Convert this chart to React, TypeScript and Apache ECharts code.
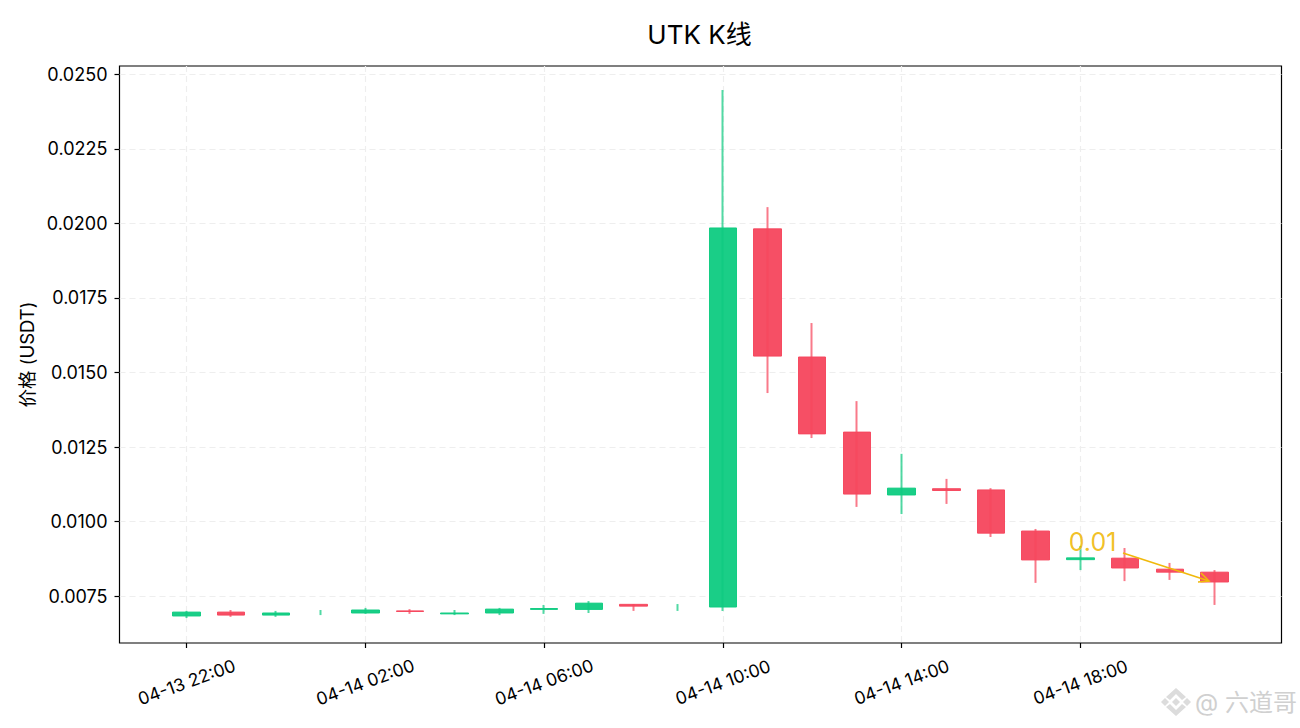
import React, { useEffect, useRef } from "react";
import * as echarts from "echarts";

const categories = ["", "04-13 22:00", "04-13 23:00", "04-14 00:00", "04-14 01:00", "04-14 02:00", "04-14 03:00", "04-14 04:00", "04-14 05:00", "04-14 06:00", "04-14 07:00", "04-14 08:00", "04-14 09:00", "04-14 10:00", "04-14 11:00", "04-14 12:00", "04-14 13:00", "04-14 14:00", "04-14 15:00", "04-14 16:00", "04-14 17:00", "04-14 18:00", "04-14 19:00", "04-14 20:00", "04-14 21:00", ""];
const opens = [0.00683, 0.00696, 0.00686, 0.00696, 0.00693, 0.00700, 0.00690, 0.00693, 0.00705, 0.00705, 0.00722, 0.00713, 0.00713, 0.01982, 0.01552, 0.01300, 0.01089, 0.01110, 0.01106, 0.00968, 0.00872, 0.00877, 0.00840, 0.00830];
const closes = [0.00696, 0.00686, 0.00693, 0.00696, 0.00703, 0.00698, 0.00693, 0.00706, 0.00708, 0.00726, 0.00716, 0.00713, 0.01985, 0.01555, 0.01294, 0.01092, 0.01112, 0.01104, 0.00961, 0.00871, 0.00878, 0.00844, 0.00830, 0.00797];
const lows = [0.00676, 0.00680, 0.00680, 0.00686, 0.00690, 0.00690, 0.00686, 0.00686, 0.00690, 0.00693, 0.00700, 0.00700, 0.00700, 0.01431, 0.01280, 0.01049, 0.01025, 0.01059, 0.00948, 0.00794, 0.00837, 0.00800, 0.00804, 0.00720];
const highs = [0.00700, 0.00703, 0.00700, 0.00703, 0.00710, 0.00706, 0.00703, 0.00710, 0.00720, 0.00733, 0.00723, 0.00723, 0.02448, 0.02055, 0.01666, 0.01404, 0.01227, 0.01143, 0.01112, 0.00975, 0.00918, 0.00911, 0.00861, 0.00837];
const yTickValues = [0.0075, 0.01, 0.0125, 0.015, 0.0175, 0.02, 0.0225, 0.025];

const UP = "#0ECB81";
const DOWN = "#F6465D";
const AMBER = "#F0B90B";
const FONT = 'Inter, "Noto Sans CJK SC", sans-serif';

export default function App() {
  const ref = useRef<HTMLDivElement>(null);
  useEffect(() => {
    document.body.style.margin = "0";
    const chart = echarts.init(ref.current!, undefined, { renderer: "svg" });
    const isTick = (i: number) => i >= 1 && i <= 21 && (i - 1) % 4 === 0;
    const colorOf = (i: number) => (closes[i] >= opens[i] ? UP : DOWN);
    const bodyData = opens.map((o, i) => {
      const c = closes[i];
      if (o === c) return { value: ["-", "-", "-", "-"] };
      const color = colorOf(i);
      return {
        value: [o, c, Math.min(o, c), Math.max(o, c)],
        itemStyle: { color, color0: color, borderColor: color, borderColor0: color, opacity: 0.95 },
      };
    });
    const wickData = opens.map((_, i) => {
      const color = colorOf(i);
      return {
        value: [lows[i], highs[i], lows[i], highs[i]],
        itemStyle: { color, color0: color, borderColor: color, borderColor0: color, borderWidth: 2, opacity: 0.72 },
      };
    });
    const pad = (a: any[]) => [{ value: ["-", "-", "-", "-"] }, ...a, { value: ["-", "-", "-", "-"] }];
    const grey = "#dcdcdc";
    chart.setOption({
      animation: false,
      backgroundColor: "#fff",
      title: {
        text: "UTK K线",
        left: 694.5,
        top: 16,
        textAlign: "center",
        textStyle: { fontFamily: FONT, fontSize: 26, fontWeight: "normal", color: "#000" },
      },
      grid: { left: 119.5, top: 66, width: 1162, height: 577, show: true, borderColor: "#000", borderWidth: 1.2, backgroundColor: "#fff" },
      xAxis: {
        type: "category",
        data: categories,
        boundaryGap: true,
        axisLine: { show: false },
        axisTick: { show: true, alignWithLabel: true, interval: (i: number) => isTick(i), length: 5, lineStyle: { color: "#000", width: 1.2 } },
        axisLabel: {
          interval: (i: number) => isTick(i),
          rotate: 20,
          align: "center",
          verticalAlign: "middle",
          margin: 39,
          fontFamily: FONT,
          fontSize: 17.6,
          color: "#000",
          hideOverlap: false,
        },
        splitLine: { show: true, alignWithLabel: true, interval: (i: number) => isTick(i), lineStyle: { color: "#eeeeee", width: 1.2, type: [6, 4] } },
      },
      yAxis: {
        type: "value",
        min: 0.005923,
        max: 0.025285,
        name: "价格 (USDT)",
        nameLocation: "middle",
        nameGap: 81,
        nameTextStyle: { fontFamily: FONT, fontSize: 18.5, color: "#000" },
        axisLine: { show: false },
        axisTick: { show: true, length: 5, customValues: yTickValues, lineStyle: { color: "#000", width: 1.2 } },
        axisLabel: { customValues: yTickValues, margin: 12, fontFamily: FONT, fontSize: 18, color: "#000", formatter: (v: number) => v.toFixed(4) },
        splitLine: { show: true, lineStyle: { color: "#eeeeee", width: 1.2, type: [6, 4] } },
      },
      series: [
        { type: "candlestick", name: "实体", barWidth: 28, z: 3, itemStyle: { borderWidth: 1 }, data: pad(bodyData) },
        { type: "candlestick", name: "影线", barWidth: 1, z: 4, data: pad(wickData) },
      ],
      graphic: [
        { type: "text", z: 10, style: { x: 1092.5, y: 542, text: "0.01", fill: AMBER, fontFamily: FONT, fontSize: 25, align: "center", verticalAlign: "middle", opacity: 0.9 } },
        { type: "line", z: 10, shape: { x1: 1123, y1: 553, x2: 1209, y2: 581 }, style: { stroke: AMBER, lineWidth: 1.6 } },
        { type: "polyline", z: 10, shape: { points: [[1198, 582], [1209, 581], [1201, 573]] }, style: { stroke: AMBER, lineWidth: 1.6, fill: "none" } },
        { type: "polygon", z: 10, shape: { points: [[1176, 688], [1186, 697], [1182, 700], [1176, 694], [1170, 700], [1166, 697]] }, style: { fill: grey } },
        { type: "polygon", z: 10, shape: { points: [[1176, 716], [1186, 707], [1182, 704], [1176, 710], [1170, 704], [1166, 707]] }, style: { fill: grey } },
        { type: "polygon", z: 10, shape: { points: [[1161, 702], [1165, 698], [1169, 702], [1165, 706]] }, style: { fill: grey } },
        { type: "polygon", z: 10, shape: { points: [[1183, 702], [1187, 698], [1191, 702], [1187, 706]] }, style: { fill: grey } },
        { type: "polygon", z: 10, shape: { points: [[1176, 698], [1180, 702], [1176, 706], [1172, 702]] }, style: { fill: grey } },
        { type: "text", z: 10, style: { x: 1195, y: 702, text: "@ 六道哥", fill: "#d0d0d0", fontFamily: FONT, fontSize: 24, align: "left", verticalAlign: "middle" } },
      ],
    });
    return () => chart.dispose();
  }, []);
  return <div ref={ref} style={{ width: 1300, height: 728, position: "fixed", left: 0, top: 0 }} />;
}
